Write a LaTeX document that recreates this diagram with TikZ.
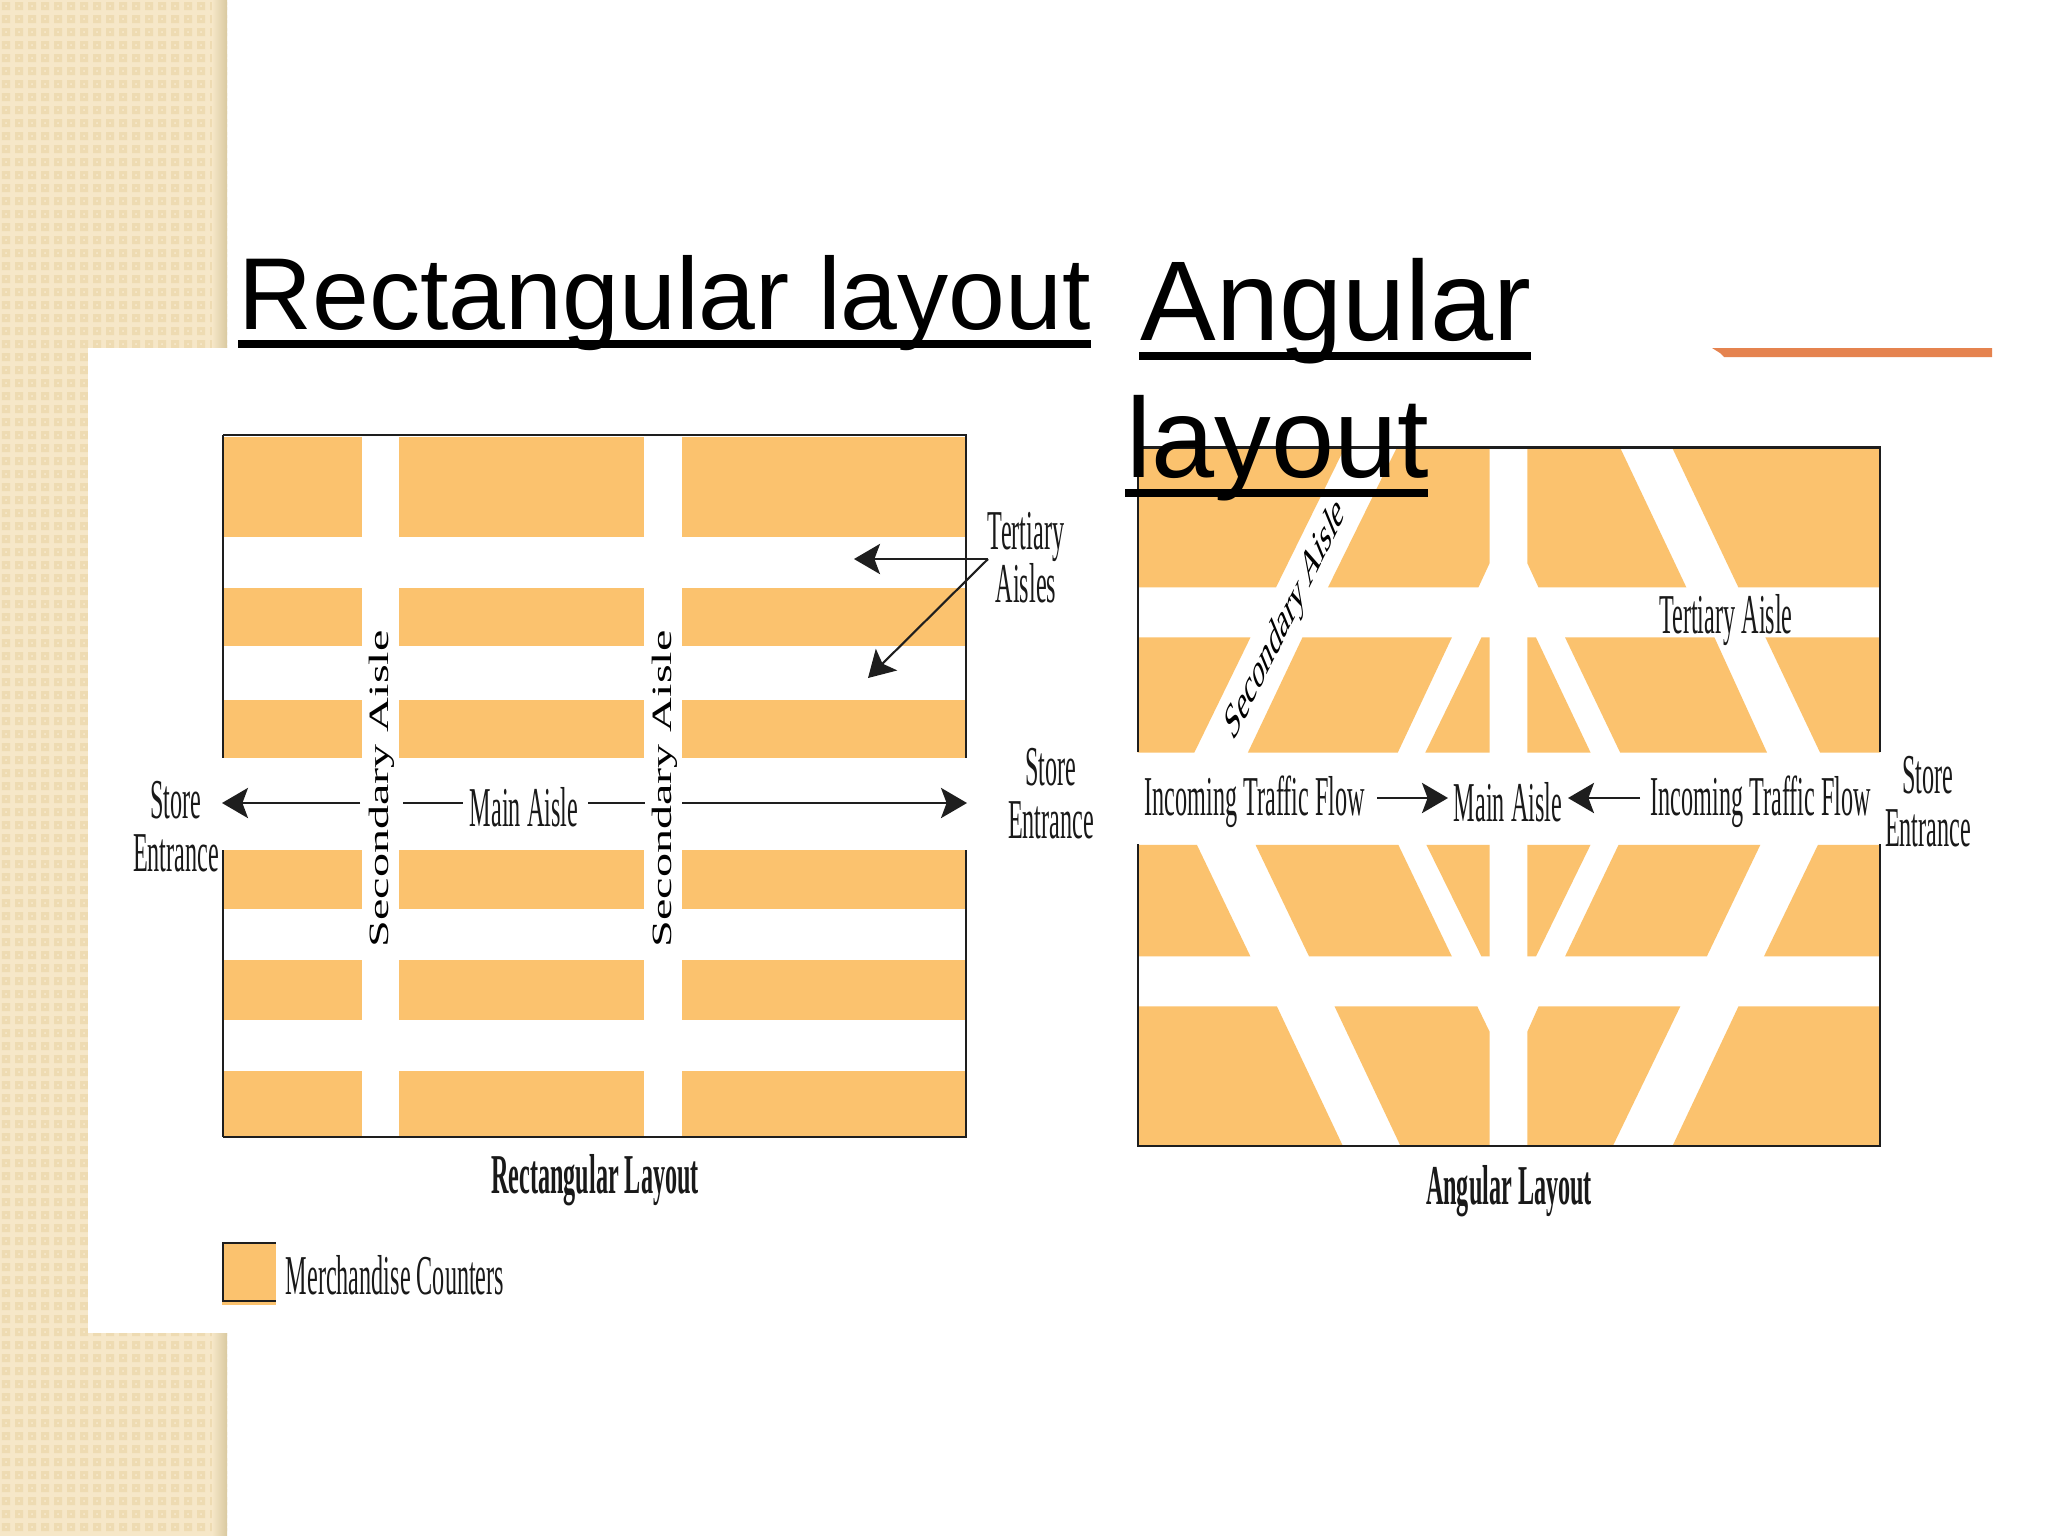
\documentclass[tikz,border=0pt]{standalone}
\usepackage{graphicx}
\usepackage{fontspec}
\setmainfont{Liberation Sans}
\newfontfamily\lblfont[FakeStretch=0.43]{Liberation Serif}
\newfontfamily\plainserif{Liberation Serif}
\usetikzlibrary{arrows.meta}
\definecolor{counter}{HTML}{FBC26E}
\definecolor{tanbase}{HTML}{F6E7C8}
\definecolor{tanring}{HTML}{EEDBB2}
\definecolor{tanedge}{HTML}{D9C9A0}
\definecolor{inkline}{HTML}{1E1E1E}
\definecolor{accent}{HTML}{E5834F}
\tikzset{
  ctr/.style={fill=counter,draw=none},
  outline/.style={draw=inkline,line width=0.75pt},
  sideline/.style={draw=inkline,line width=0.5pt},
  lbl/.style={inner sep=0pt,font=\fontsize{16}{15}\selectfont\lblfont,text=black!90,align=center},
  lblb/.style={inner sep=0pt,font=\fontsize{16}{16}\selectfont\lblfont\bfseries,text=black!90},
  title/.style={inner sep=0pt,anchor=base west,text=black},
  ul/.style={fill=black},
  arr/.style={draw=inkline,line width=0.6pt,-{Stealth[length=7.4pt,width=8.6pt,inset=1.6pt]}},
  seg/.style={draw=inkline,line width=0.6pt}
}
\newcommand{\vlabel}[1]{\scalebox{.58}[1]{\rotatebox{90}{\plainserif\fontsize{13.7}{14}\selectfont #1}}}
\begin{document}
\begin{tikzpicture}[x=0.01cm,y=-0.01cm]
\useasboundingbox (0,0) rectangle (2048,1536);
% slide background
\fill[white] (0,0) rectangle (2048,1536);
\fill[tanbase] (0,0) rectangle (227,1536);
\begin{scope}
\clip (0,0) rectangle (227,1536);
\foreach \ix in {0,...,17}{
  \foreach \iy in {0,...,118}{
    \pgfmathsetmacro{\px}{\ix*13+2}
    \pgfmathsetmacro{\py}{\iy*13+2}
    \fill[tanring,even odd rule] (\px,\py) rectangle +(8,8) (\px+3,\py+3) rectangle +(2,2);
  }
}
\end{scope}
\shade[left color=tanbase,right color=tanedge,shading angle=90,opacity=1] (212,0) rectangle (227,1536);
\fill[white] (88,348) rectangle (240,1333);
% left panel counters
\foreach \ya/\yb in {437/537,588/646,700/757.5,850/909,960/1020,1071/1136}{
  \foreach \xa/\xb in {224/362,399/644,682/966}{
    \fill[ctr] (\xa,\ya) rectangle (\xb,\yb);
  }
}
\draw[outline] (223,435) -- (967,435);
\draw[outline] (223,1137) -- (967,1137);
\draw[sideline] (223,435) -- (223,757.5);
\draw[sideline] (223,850) -- (223,1137);
\draw[sideline] (966,435) -- (966,757.5);
\draw[sideline] (966,850) -- (966,1137);
% right panel counters
\begin{scope}[shift={(1100,420)},x=0.005102cm,y=-0.004847cm]
\fill[ctr] (74,57)--(480,57)--(345,345)--(74,345)--cycle;
\fill[ctr] (582,57)--(764,57)--(764,295)--(742,345)--(447,345)--cycle;
\fill[ctr] (838,57)--(1020,57)--(1150,345)--(860,345)--(838,295)--cycle;
\fill[ctr] (1122,57)--(1530,57)--(1530,345)--(1252,345)--cycle;
\fill[ctr] (74,448)--(295,448)--(185,685)--(74,685)--cycle;
\fill[ctr] (397,448)--(690,448)--(584,685)--(290,685)--cycle;
\fill[ctr] (748,448)--(764,448)--(764,685)--(638,685)--cycle;
\fill[ctr] (838,448)--(855,448)--(962,685)--(838,685)--cycle;
\fill[ctr] (912,448)--(1205,448)--(1308,685)--(1020,685)--cycle;
\fill[ctr] (1305,448)--(1530,448)--(1530,685)--(1412,685)--cycle;
\fill[ctr] (74,875)--(190,875)--(295,1105)--(74,1105)--cycle;
\fill[ctr] (305,875)--(585,875)--(690,1105)--(410,1105)--cycle;
\fill[ctr] (640,875)--(764,875)--(764,1105)--(748,1105)--cycle;
\fill[ctr] (838,875)--(962,875)--(855,1105)--(838,1105)--cycle;
\fill[ctr] (1017,875)--(1295,875)--(1190,1105)--(912,1105)--cycle;
\fill[ctr] (1408,875)--(1530,875)--(1530,1105)--(1302,1105)--cycle;
\fill[ctr] (74,1208)--(347,1208)--(477,1497)--(74,1497)--cycle;
\fill[ctr] (460,1208)--(740,1208)--(764,1260)--(764,1497)--(590,1497)--cycle;
\fill[ctr] (838,1260)--(860,1208)--(1138,1208)--(1005,1497)--(838,1497)--cycle;
\fill[ctr] (1252,1208)--(1530,1208)--(1530,1497)--(1122,1497)--cycle;
\end{scope}
\draw[outline] (1137,447.5) -- (1881,447.5);
\draw[outline] (1137,1146) -- (1881,1146);
\draw[sideline] (1138,447.5) -- (1138,752);
\draw[sideline] (1138,844) -- (1138,1146);
\draw[sideline] (1880,447.5) -- (1880,752);
\draw[sideline] (1880,844) -- (1880,1146);
% accent rule
\fill[accent] (1712,348) -- (1992,348) -- (1992,357) -- (1724,357) -- (1720,353) -- cycle;
% left panel labels
\node[inner sep=0pt] (sec1) at (381.5,789) {\vlabel{Secondary Aisle}};
\node[inner sep=0pt] (sec2) at (664.5,789) {\vlabel{Secondary Aisle}};
\node[lbl] (main1) at (524,807) {Main Aisle};
\node[lbl] (storeL) at (176,827) {Store\\Entrance};
\node[lbl] (storeR) at (1051,794) {Store\\Entrance};
\node[lbl] (tert1) at (1026,558) {Tertiary\\Aisles};
\node[lblb] (rectcap) at (595,1180) {Rectangular Layout};
\node[lbl] (legendtxt) at (395,1275) {Merchandise Counters};
% legend swatch
\fill[counter] (222,1243) rectangle (276,1305);
\draw[draw=inkline,line width=0.7pt] (222,1243) -- (276,1243);
\draw[draw=inkline,line width=0.7pt] (222,1301) -- (276,1301);
\draw[sideline,line width=0.35pt] (223,1243) -- (223,1301);
% left panel arrows
\coordinate (a1) at (360,803); \coordinate (a1t) at (222,803);
\coordinate (a2) at (403,803); \coordinate (a2t) at (463,803);
\coordinate (a3) at (588,803); \coordinate (a3t) at (645,803);
\coordinate (a4) at (682,803); \coordinate (a4t) at (967,803);
\coordinate (tt) at (988,559); \coordinate (t1) at (854,559); \coordinate (t2) at (868,678);
\draw[arr] (a1) -- (a1t);
\draw[seg] (a2) -- (a2t);
\draw[seg] (a3) -- (a3t);
\draw[arr] (a4) -- (a4t);
\draw[arr] (tt) -- (t1);
\draw[arr] (tt) -- (t2);
% right panel labels
\node[inner sep=0pt] (sec3) at (1286,620) {\scalebox{.45}[1]{\rotatebox{42.4}{\plainserif\fontsize{14.5}{15}\selectfont Secondary Aisle}}};
\node[lbl] (tert2) at (1726,620) {Tertiary Aisle};
\node[lbl] (inc1) at (1255,802) {Incoming Traffic Flow};
\node[lbl] (main2) at (1508,802) {Main Aisle};
\node[lbl] (inc2) at (1761,802) {Incoming Traffic Flow};
\node[lbl] (storeRR) at (1928,802) {Store\\Entrance};
\node[lblb] (angcap) at (1509,1191) {Angular Layout};
\coordinate (b1) at (1377,798); \coordinate (b1t) at (1448,798);
\coordinate (b2) at (1640,798); \coordinate (b2t) at (1568,798);
\draw[arr] (b1) -- (b1t);
\draw[arr] (b2) -- (b2t);
% titles
\node[title,font=\fontsize{29.07}{29}\selectfont] (title1) at (238,329) {Rectangular layout};
\fill[ul] (238,340) rectangle (1091,348);
\node[title,font=\fontsize{32.25}{32}\selectfont] (title2) at (1140,340) {Angular};
\fill[ul] (1139,352) rectangle (1531,360);
\node[title,font=\fontsize{32.25}{32}\selectfont] (title3) at (1126,477) {layout};
\fill[ul] (1125,489) rectangle (1428,497);
\end{tikzpicture}
\end{document}
